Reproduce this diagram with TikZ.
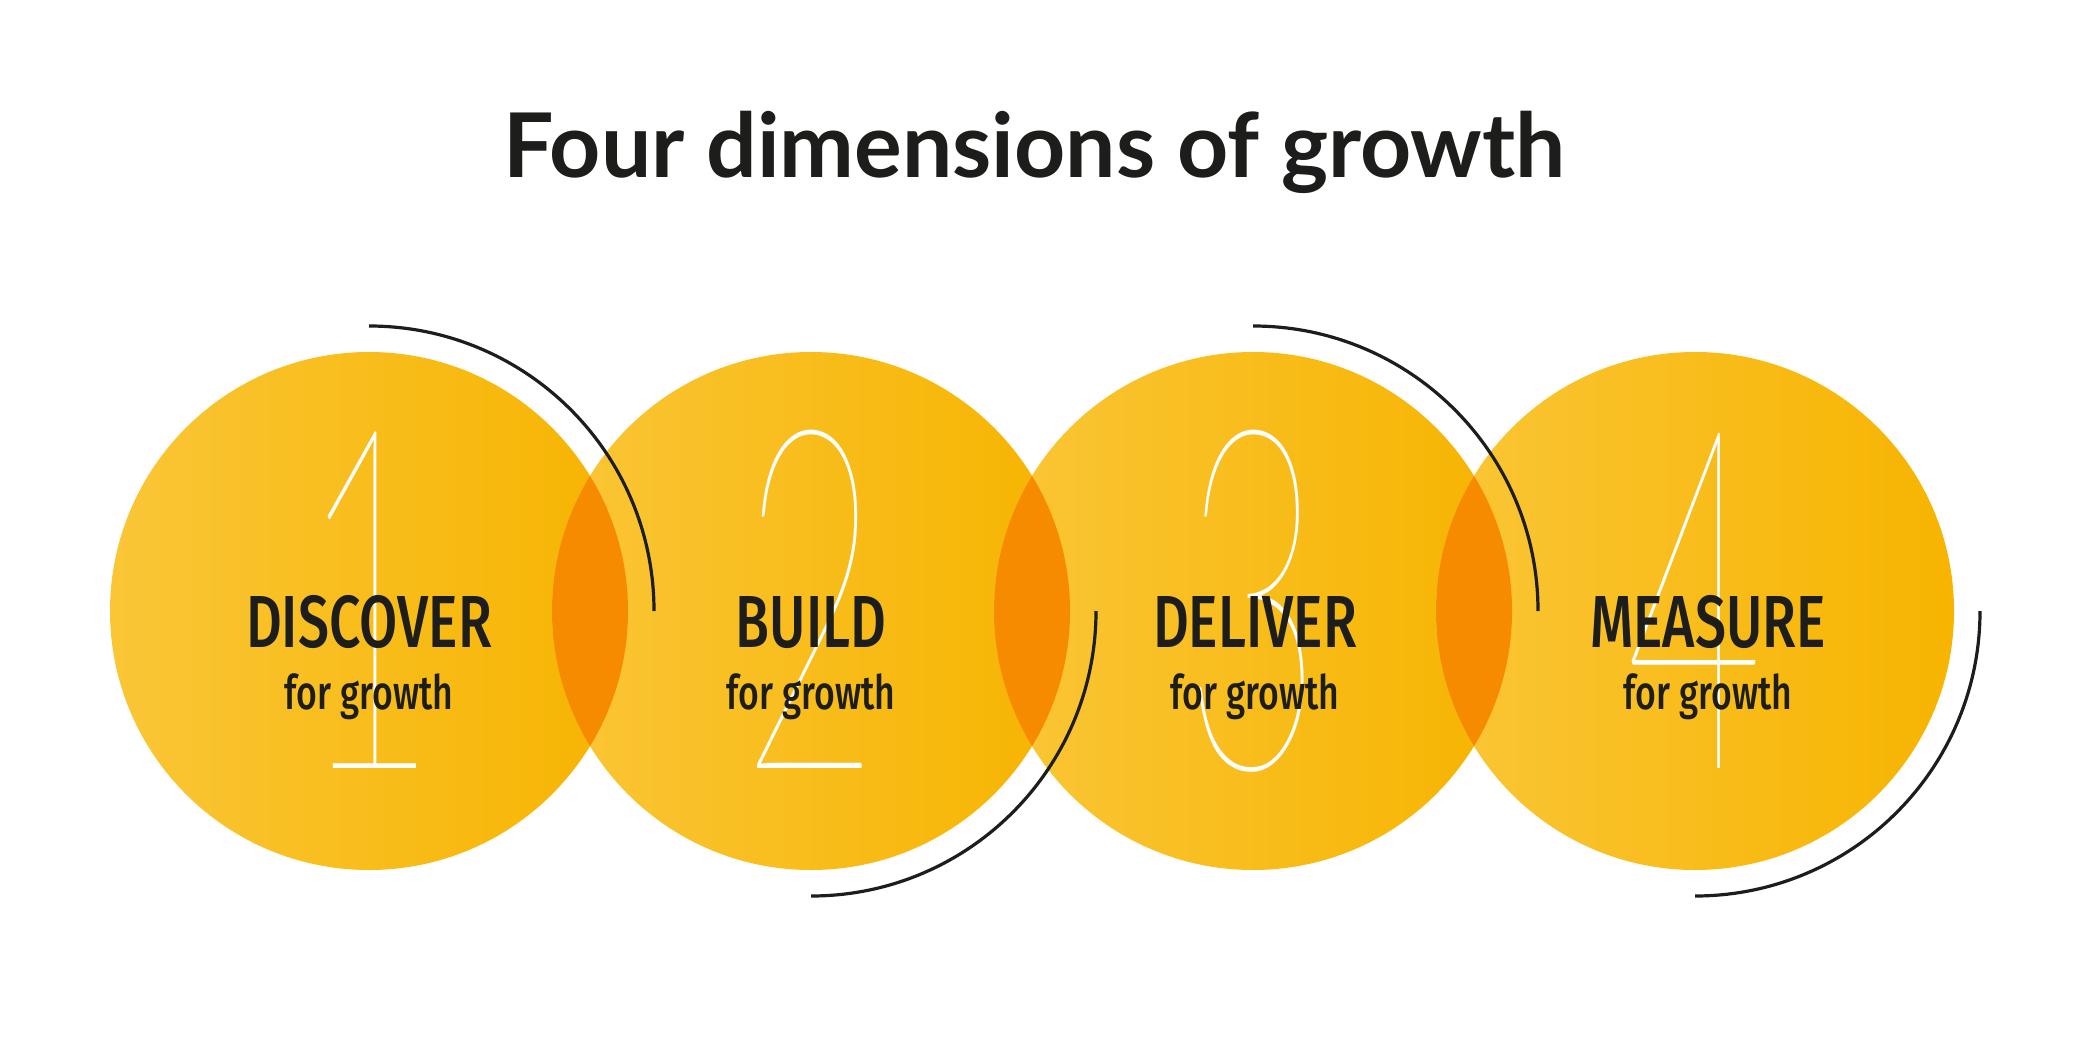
\documentclass[tikz,border=0pt]{standalone}
\usepackage{fontspec}
\newfontfamily\titlefont{Lato}
\IfFontExistsTF{Fira Sans Medium}
 {\newfontfamily\labelfont[FakeStretch=0.75]{Fira Sans Medium}}
 {\newfontfamily\labelfont[FakeStretch=0.75]{Fira Sans}}
\newcommand\pickdigitfont[2]{\IfFontExistsTF{#1}{\newfontfamily\digitfont[FakeStretch=0.5]{#1}}{#2}}
\pickdigitfont{Lato Hairline}{%
 \pickdigitfont{Fira Sans Hair}{%
  \pickdigitfont{Fira Sans Thin}{%
   \pickdigitfont{Lato Thin}{%
    \pickdigitfont{Poppins Thin}{%
     \pickdigitfont{DejaVu Sans ExtraLight}{%
      \newfontfamily\digitfont[FakeStretch=0.5]{Lato}}}}}}}
\definecolor{sunlight}{HTML}{FAC637}
\definecolor{amber}{HTML}{F7B400}
\definecolor{lens}{HTML}{F68B00}
\definecolor{ink}{HTML}{1D1D1B}
\tikzset{
 disc/.style={circle,minimum size=5.18cm,inner sep=0pt,left color=sunlight,right color=amber},
 ring/.style={ink,line width=0.91pt},
 numeral/.style={anchor=base,white,inner sep=0pt,font=\digitfont\fontsize{136}{136}\selectfont},
 headline/.style={anchor=base,ink,inner sep=0pt,font=\labelfont\fontsize{21}{21}\selectfont},
 subline/.style={anchor=base,ink,inner sep=0pt,font=\labelfont\fontsize{13.5}{14}\selectfont}
}
\begin{document}
\begin{tikzpicture}
\useasboundingbox (0,0) rectangle (20.99,10.5);
\node[anchor=base,ink,inner sep=0pt,font=\titlefont\bfseries\fontsize{25.4}{26}\selectfont] (title) at (10.345,8.72) {Four dimensions of growth};

\foreach \i/\x in {1/3.69,2/8.11,3/12.53,4/16.95}
 \node[disc] (c\i) at (\x,4.39) {};
\foreach \i/\j in {1/2,2/3,3/4}
{
 \begin{scope}
 \clip (c\i.center) circle (2.59);
 \fill[lens] (c\j.center) circle (2.59);
 \end{scope}
}

\foreach \i in {1,...,4}
 \node[numeral] (n\i) at ([yshift=-1.57cm]c\i.center) {\i};
\foreach \i/\w/\dx in {1/DISCOVER/0,2/BUILD/0,3/DELIVER/0.02,4/MEASURE/0.13}
{
 \node[headline] (h\i) at ([xshift=\dx cm,yshift=-0.365cm]c\i.center) {\w};
 \node[subline] (s\i) at ([xshift=\dx cm,yshift=-0.985cm]c\i.center) {for growth};
}

\foreach \i in {1,3}
 \draw[ring] (c\i.center) ++(0,2.85) arc (90:0:2.85);
\foreach \i in {2,4}
 \draw[ring] (c\i.center) ++(2.85,0) arc (0:-90:2.85);
\end{tikzpicture}
\end{document}
